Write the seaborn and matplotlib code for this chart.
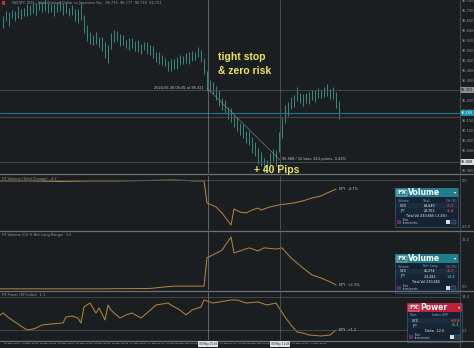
import numpy as np
import pandas as pd
import seaborn as sns
import matplotlib.pyplot as plt
from matplotlib.patches import Rectangle

# NZDJPY M15 bars: bar mid price and bar range (pips)
bar_mid = [96.640, 96.668, 96.655, 96.680, 96.672, 96.690, 96.682, 96.688, 96.698, 96.700,
           96.712, 96.705, 96.722, 96.716, 96.725, 96.708, 96.712, 96.700, 96.715, 96.718,
           96.706, 96.712, 96.690, 96.698, 96.676, 96.672, 96.692, 96.630, 96.585, 96.562,
           96.550, 96.558, 96.540, 96.532, 96.498, 96.482, 96.545, 96.568, 96.572, 96.550,
           96.548, 96.530, 96.528, 96.536, 96.522, 96.518, 96.505, 96.522, 96.508, 96.498,
           96.488, 96.466, 96.462, 96.448, 96.442, 96.422, 96.425, 96.430, 96.436, 96.452,
           96.450, 96.462, 96.458, 96.472, 96.470, 96.488, 96.468, 96.420, 96.345, 96.318,
           96.308, 96.285, 96.262, 96.228, 96.215, 96.186, 96.175, 96.146, 96.132, 96.105,
           96.095, 96.066, 96.058, 96.025, 96.004, 95.972, 95.955, 95.922, 95.918, 95.948,
           95.975, 95.960, 96.040, 96.110, 96.182, 96.205, 96.236, 96.246, 96.280, 96.262,
           96.252, 96.258, 96.262, 96.275, 96.270, 96.284, 96.282, 96.292, 96.298, 96.282,
           96.285, 96.250, 96.200]
bar_range = [6, 5, 7, 4, 5, 6, 5, 4, 6, 5,
             5, 6, 4, 5, 6, 5, 4, 6, 5, 5,
             6, 5, 4, 5, 6, 7, 8, 9, 8, 6,
             5, 6, 5, 7, 8, 9, 8, 6, 5, 6,
             5, 4, 6, 5, 5, 6, 5, 4, 6, 5,
             6, 5, 6, 5, 4, 5, 6, 5, 6, 5,
             4, 5, 6, 5, 4, 5, 6, 8, 10, 6,
             6, 7, 8, 6, 7, 6, 7, 6, 7, 6,
             7, 6, 7, 8, 7, 8, 7, 8, 6, 7,
             6, 8, 10, 10, 9, 7, 6, 6, 7, 5,
             6, 5, 6, 5, 6, 5, 4, 5, 6, 5,
             6, 8, 9]

# FX Volume (total change)
vol_total_x = [-1, 9, 19, 29, 39, 49, 56, 61, 64, 67, 68, 71, 73, 76, 77, 79, 81, 83, 85, 86,
               89, 92, 97, 100, 103, 106, 108, 111]
vol_total_y = [-0.2, -0.2, -0.5, -0.2, -0.2, 0.1, 0.3, 0.1, -0.2, -0.2, -12.2, -14.4, -17.7,
               -24.3, -15.5, -17.2, -17.7, -16.1, -15.0, -16.1, -14.4, -13.3, -12.2, -11.1,
               -9.5, -8.4, -6.8, -4.7]

# FX Volume (net long change)
net_long_x = [-1, 16, 32, 49, 54, 57, 66, 67, 68, 73, 76, 77, 82, 85, 87, 91, 93, 96, 100,
              103, 106, 109, 111]
net_long_y = [-0.7, -0.7, -0.7, -0.6, -0.2, 0.0, 0.0, 0.0, 7.3, 9.3, 12.7, 8.6, 9.9, 9.1,
              9.9, 9.6, 9.9, 7.3, 4.7, 2.9, 2.1, 1.1, 0.3]

# FX Power index
power_x = [-1, 0, 2, 6, 8, 10, 11, 13, 16, 20, 21, 23, 25, 26, 27, 29, 31, 32, 34, 35, 36,
           37, 39, 41, 43, 46, 48, 51, 55, 56, 59, 61, 63, 66, 67, 70, 72, 76, 78, 81, 85,
           88, 91, 94, 96, 98, 100, 102, 106, 109, 111]
power_y = [7.2, 8.0, 6.0, 2.8, 1.2, 1.6, 2.0, 3.2, 3.6, 4.0, 6.4, 6.8, 6.0, 4.0, 10.4, 12.0,
           8.0, 10.0, 5.2, 11.2, 9.2, 8.0, 6.0, 7.2, 8.0, 6.0, 8.0, 11.2, 12.0, 11.2, 9.2,
           7.2, 9.2, 10.4, 13.2, 12.0, 12.4, 13.2, 13.2, 12.0, 12.4, 11.2, 12.0, 6.4, 3.2,
           0.4, 0.0, -0.8, -1.2, -0.8, 1.2]

time_ticks = [3, 9, 15, 21, 27, 33, 39, 45, 51, 57, 62, 75, 81, 86, 99, 105]
time_labels = ["29 May 2024", "29 May 15:00", "29 May 16:30", "29 May 18:00", "29 May 19:30",
               "29 May 21:00", "29 May 22:30", "30 May 00:00", "30 May 01:30", "30 May 03:00",
               "30 May 04:15", "30 May 07:30", "30 May 09:00", "30 May 10:15", "30 May 13:30",
               "30 May 15:00"]

BG = "#1b1e21"
GRID = "#4a4e52"
TEAL = "#3a8a85"
ORANGE = "#b8893f"
YEL = "#ece65a"
TXT = "#9a9da0"
W, H = 474, 348

sns.set_theme(style="dark", rc={"axes.facecolor": BG, "figure.facecolor": BG})
plt.rcParams["font.family"] = ["DejaVu Sans"]

fig = plt.figure(figsize=(4.74, 3.48), dpi=100)


def fx(x):
    return x / W


def fy(y):
    return 1 - y / H


def panel(top, bottom):
    ax = fig.add_axes([0, fy(bottom), 460 / W, (bottom - top) / H])
    ax.set_facecolor(BG)
    for s in ax.spines.values():
        s.set_visible(False)
    ax.set_xlim(-1, 152.33)
    ax.yaxis.tick_right()
    ax.tick_params(axis="both", length=0, labelsize=2.5, labelcolor=TXT, pad=1)
    ax.set_xticks([])
    ax.grid(False)
    ax.set_xlabel("")
    ax.set_ylabel("")
    return ax


# main price panel
ax0 = panel(0, 173)
idx = np.arange(len(bar_mid))
mid = np.array(bar_mid)
rng = np.array(bar_range) * 0.01
ax0.vlines(idx, mid - rng / 2, mid + rng / 2, color=TEAL, lw=0.7)
ax0.set_ylim(95.885, 96.75)
ax0.set_yticks(np.arange(95.90, 96.751, 0.05))
ax0.set_yticklabels([f"{v:.3f}" for v in np.arange(95.90, 96.751, 0.05)])
ax0.axhline(96.30, color=GRID, lw=0.6)
ax0.axhline(96.185, color="#1f7488", lw=0.8)
ax0.axhline(96.165, color=GRID, lw=0.6)
ax0.axhline(95.94, color=GRID, lw=0.6)
ax0.plot([68, 92.3], [96.31, 95.95], color="#8a8d90", lw=0.4)
ax0.text(67, 96.302, "2024.05.30 05:45 at 96.321", fontsize=2.5, color="#c8cacc",
         ha="right", va="bottom")
ax0.text(93, 95.945, "95.908 / 32 bars, 413 points, 0.43%", fontsize=2.5,
         color="#c8cacc", va="bottom")
ax0.text(152.5, 96.30, "96.321", fontsize=2.5, color="#111", va="center",
         bbox=dict(boxstyle="square,pad=0.2", fc="#8d9093", ec="none"))
ax0.text(152.5, 96.185, "96.185", fontsize=2.5, color="white", va="center",
         bbox=dict(boxstyle="square,pad=0.2", fc="#1f8fa8", ec="none"))
ax0.text(152.5, 95.94, "95.908", fontsize=2.5, color="#111", va="center",
         bbox=dict(boxstyle="square,pad=0.2", fc="#d8dadc", ec="none"))

# indicator panels
ax1 = panel(176, 230)
sns.lineplot(x=vol_total_x, y=vol_total_y, ax=ax1, color=ORANGE, lw=0.7)
ax1.set_ylim(-27, 2.5)
ax1.axhline(0.3, color=GRID, lw=0.6)
ax1.set_yticks([0.0, -25.0])
ax1.set_yticklabels(["0.0", "-25.0"])
ax1.text(112, -4.7, "EPY  -4.7%", fontsize=2.5, color="#c8cacc", va="center")

ax2 = panel(232, 290)
sns.lineplot(x=net_long_x, y=net_long_y, ax=ax2, color=ORANGE, lw=0.7)
ax2.set_ylim(-1, 14)
ax2.set_yticks([12.0, 0.0])
ax2.set_yticklabels(["12.0", "0.0"])
ax2.text(112, 0.3, "EPY  +2.3%", fontsize=2.5, color="#c8cacc", va="center")

ax3 = panel(292, 340)
sns.lineplot(x=power_x, y=power_y, ax=ax3, color=ORANGE, lw=0.7)
ax3.set_ylim(-2.8, 16.4)
ax3.axhline(14.4, color=GRID, lw=0.6)
ax3.axhline(1.2, color=GRID, lw=0.6)
ax3.set_yticks([14.4, 1.2])
ax3.set_yticklabels(["14.4", "1.2"])
ax3.text(112, 1.2, "EPY  +1.2", fontsize=2.5, color="#c8cacc", va="center")
ax3.set_xticks(time_ticks)
ax3.set_xticklabels(time_labels)
ax3.tick_params(axis="x", labelsize=1.7, labelcolor="#c4c7ca", pad=2.4)

for a in (ax0, ax1, ax2, ax3):
    a.axvline(68.3, color="#7d8185", lw=0.5)
    a.axvline(92.3, color="#5d6165", lw=0.5)

titles = [(176, "FX Volume (Total Change)  -4.7"),
          (232, "FX Volume (Ch % Net Long Range)  3.2"),
          (292, "FX Power (EP Index)  1.1")]
for y, t in titles:
    fig.text(fx(2), fy(y + 3), t, fontsize=2.5, color=TXT, va="center")
fig.text(fx(12), fy(3), "NZDJPY, M15:  New Zealand Dollar vs Japanese Yen   96.776  96.777  96.716  96.721",
         fontsize=2.5, color=TXT, va="center")
fig.add_artist(Rectangle((fx(2), fy(5)), 3 / W, 4 / H, fc="#c0303a", ec="none",
                         transform=fig.transFigure))

# separators and right scale line
for y in (173.5, 230.8, 290.8, 340.5):
    fig.add_artist(plt.Line2D([0, 1], [fy(y), fy(y)], color="#6e7276", lw=0.9,
                              transform=fig.transFigure))
fig.add_artist(plt.Line2D([fx(460), fx(460)], [0, 1], color="#55595d", lw=0.5,
                          transform=fig.transFigure))

# crosshair time labels
for x, t in ((208, "30 May 05:45"), (280, "30 May 11:45")):
    fig.text(fx(x), fy(344), t, fontsize=2.0, color="#111", ha="center", va="center",
             bbox=dict(boxstyle="square,pad=0.25", fc="#e0e2e4", ec="none"))

# trade annotations
fig.text(fx(218), fy(57), "tight stop", fontsize=7.5, fontweight="bold", color=YEL,
         family="Liberation Sans", va="center")
fig.text(fx(218), fy(71), "& zero risk", fontsize=7.5, fontweight="bold", color=YEL,
         family="Liberation Sans", va="center")
fig.text(fx(254), fy(170), "+ 40 Pips", fontsize=7.5, fontweight="bold", color=YEL,
         family="Liberation Sans", va="center")


def rect(x, y, w, h, fc, ec="none", lw=0.5):
    fig.add_artist(Rectangle((fx(x), fy(y + h)), w / W, h / H, fc=fc, ec=ec, lw=lw,
                             transform=fig.transFigure))


def widget(x, y, w, head_col, name, cols, rows, total):
    rect(x, y, w, 39, "#142232", ec="#3b5d72")
    rect(x, y, w, 9, head_col)
    fig.text(fx(x + 2.5), fy(y + 4.8), "FX", fontsize=4.5, fontweight="bold", color="white",
             va="center", bbox=dict(boxstyle="square,pad=0.05", fc="none", ec="white", lw=0.3))
    fig.text(fx(x + 13), fy(y + 4.8), name, fontsize=5.5, fontweight="bold",
             color="white", va="center")
    fig.text(fx(x + w - 4), fy(y + 4.5), "▾", fontsize=3, color="white", va="center")
    ry = y + 12.5
    for cx, c in zip((x + 3, x + w * 0.45, x + w - 12), cols):
        fig.text(fx(cx), fy(ry), c, fontsize=2.3, color="#8fa8c0", va="center")
    for k, (a, b, c, cc) in enumerate(rows):
        ry = y + 17.5 + k * 5
        rect(x + 1, ry - 2.3, w - 2, 4.6, "#1b2d40" if k % 2 == 0 else "#162636")
        fig.text(fx(x + 5), fy(ry), a, fontsize=2.3, color="#c8d0d8", va="center")
        fig.text(fx(x + w * 0.45), fy(ry), b, fontsize=2.3, color="white", va="center")
        fig.text(fx(x + w - 11), fy(ry), c, fontsize=2.3, color=cc, va="center",
                 fontweight="bold")
    fig.text(fx(x + w / 2), fy(y + 28), total, fontsize=2.3, color="white", ha="center",
             va="center")
    rect(x + 2, y + 31.5, 4, 4, "#6a2a6e")
    fig.text(fx(x + 7.5), fy(y + 33.5), "Stoic\nInvestments", fontsize=1.8, color="#c8d0d8",
             va="center", linespacing=0.9)
    rect(x + w - 12, y + 31.5, 3.5, 4, "#d8dde2")
    rect(x + w - 7, y + 31.5, 5, 4, "#23384c", ec="#5a7a90", lw=0.3)


widget(395, 188, 63, "#1f7d8c", "Volume", ("Volume", "Total", "Ch (%)"),
       [("NZD", "63,640", "-5.1", "#e0404a"), ("JPY", "28,762", "-2.4", "#e0404a")],
       "Total Vol 230,665 (-3.4%)")
widget(395, 254, 63, "#1f7d8c", "Volume", ("Volume", "Net Long", "Ch (%)"),
       [("NZD", "45,274", "-4.7", "#e0404a"), ("JPY", "-13,282", "+2.3", "#4fc060")],
       "Total Vol 230,665")
widget(407, 303, 55, "#c0213a", "Power", ("Pairs", "Index (EP)", ""),
       [("NZD", "", "-10.8", "#e0404a"), ("JPY", "", "+1.2", "#4fc060")],
       "Delta  -12.0")

fig.savefig("out.png", dpi=100, facecolor=BG)
